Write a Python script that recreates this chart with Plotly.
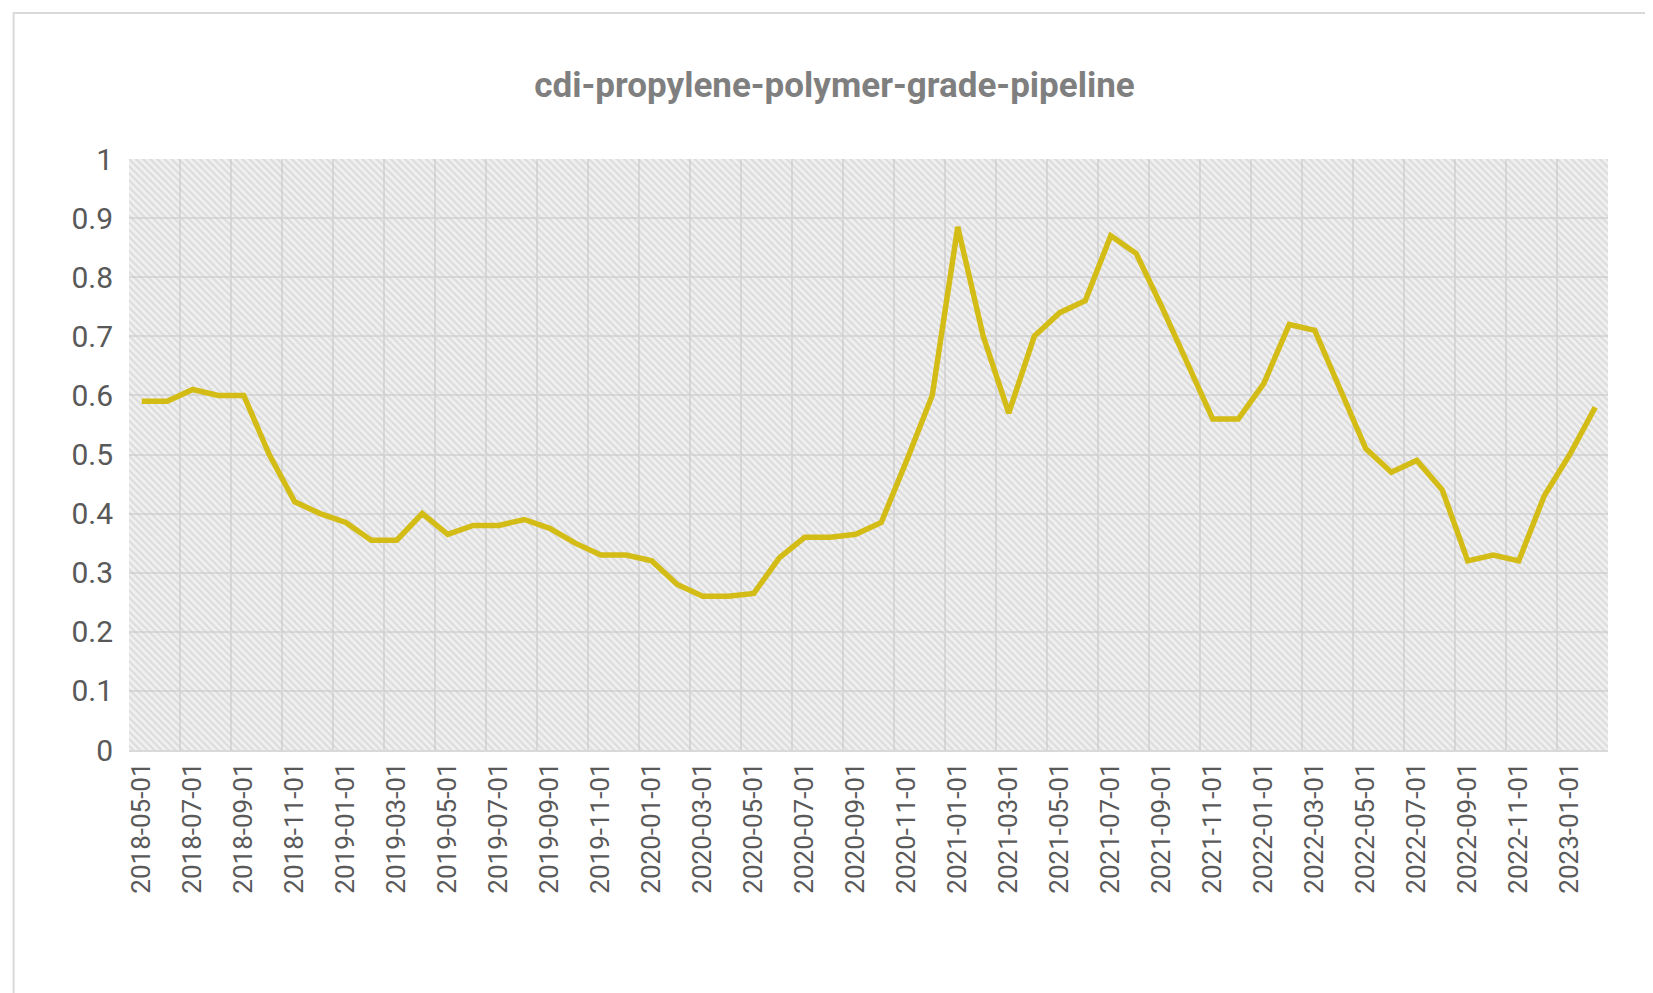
import pandas as pd
import plotly.graph_objects as go

dates = pd.date_range('2018-05-01', '2023-02-01', freq='MS').strftime('%Y-%m-%d').tolist()
values = [0.59, 0.59, 0.61, 0.60, 0.60, 0.50, 0.42, 0.40, 0.385, 0.355,
          0.355, 0.40, 0.365, 0.38, 0.38, 0.39, 0.375, 0.35, 0.33, 0.33,
          0.32, 0.28, 0.26, 0.26, 0.265, 0.325, 0.36, 0.36, 0.365, 0.385,
          0.49, 0.60, 0.885, 0.70, 0.57, 0.70, 0.74, 0.76, 0.87, 0.84,
          0.75, 0.655, 0.56, 0.56, 0.62, 0.72, 0.71, 0.61, 0.51, 0.47,
          0.49, 0.44, 0.32, 0.33, 0.32, 0.43, 0.50, 0.58]
title = 'cdi-propylene-polymer-grade-pipeline'

fig = go.Figure()
# hatched plot background, like the Excel pattern fill
fig.add_trace(go.Bar(x=dates, y=[1] * len(dates), width=1,
                     marker=dict(color='rgba(0,0,0,0)', line_width=0,
                                 pattern=dict(shape='\\', fgcolor='#c8c8c8', bgcolor='rgba(0,0,0,0)',
                                              size=5, solidity=0.45)),
                     hoverinfo='skip', showlegend=False))
fig.add_trace(go.Scatter(x=dates, y=values, mode='lines',
                         line=dict(color='#d4bc17', width=5.5), showlegend=False))

fig.update_layout(
    width=1653, height=993,
    paper_bgcolor='white', plot_bgcolor='#f0f0f0',
    font=dict(family='Roboto', color='#595959'),
    title=dict(text=title, x=0.5, xanchor='center', y=0.935,
               font=dict(size=35, color='#7f7f7f', family='Roboto', weight='bold')),
    margin=dict(l=121, r=53, t=151, b=251),
    bargap=0,
    xaxis=dict(type='category', tickson='boundaries', dtick=2, tickangle=-90,
               tickfont=dict(size=26), showgrid=True, gridcolor='#d9d9d9', gridwidth=2,
               showline=True, linecolor='#d9d9d9', linewidth=2, ticks=''),
    yaxis=dict(range=[0, 1], dtick=0.1, tickfont=dict(size=30), showgrid=True,
               gridcolor='#d9d9d9', gridwidth=2, zeroline=False, ticks='',
               tickformat='~g', ticksuffix='  '),
)
fig.add_shape(type='rect', xref='paper', yref='paper', x0=-0.078, x1=1.032, y0=-0.416, y1=1.247,
              line=dict(color='#d9d9d9', width=2))
fig.write_html('out.html')
